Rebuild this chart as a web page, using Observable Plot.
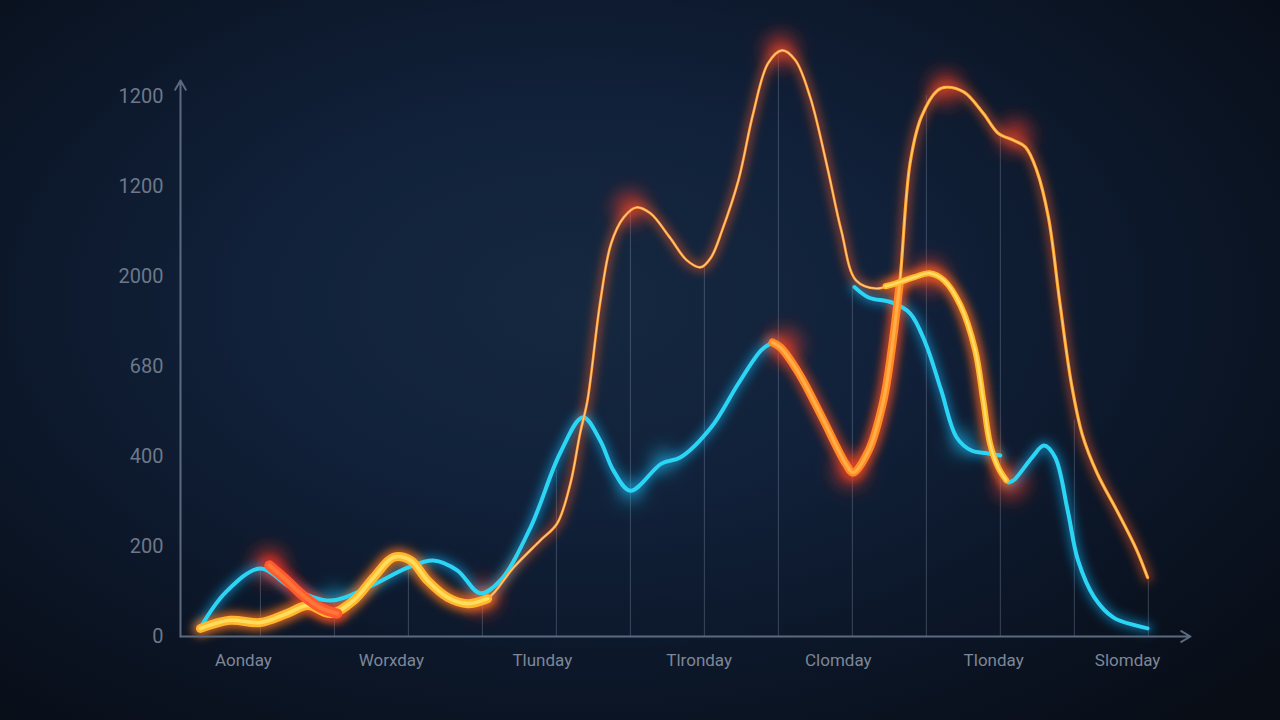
<!DOCTYPE html>
<html><head><meta charset="utf-8">
<script src="https://cdn.jsdelivr.net/npm/d3@7"></script>
<script src="https://cdn.jsdelivr.net/npm/@observablehq/plot@0.6"></script>
<style>
html,body{margin:0;padding:0;width:1280px;height:720px;overflow:hidden;}
body{background: radial-gradient(ellipse 72% 78% at 45% 42%, #15283f 0%, #11213a 35%, #0c1729 65%, #080d16 100%);}
#chart svg{display:block;background:transparent;overflow:visible}
</style></head><body><div id="chart"></div><script>
// ---- tick labels (as printed on the reference) ----
const yTickValues = [0, 200, 400, 600, 800, 1000, 1200];
const yTickLabels = ["0", "200", "400", "680", "2000", "1200", "1200"];
const xTickValues = [0.77, 2.77, 4.81, 6.93, 8.81, 10.91, 12.72];
const xTickLabels = ["Aonday", "Worxday", "Tlunday", "Tlronday", "Clomday", "Tlonday", "Slomday"];

// ---- series values [x, value] ----
const cyanMain = [[0.19,20],[0.53,98],[1.00,151],[1.41,109],[1.95,80],[2.45,109],[2.99,153],[3.34,169],[3.66,147],[3.97,96],[4.24,124],[4.65,242],[5.05,407],[5.36,487],[5.59,436],[5.77,369],[6.00,324],[6.42,384],[6.68,398],[7.09,464],[7.46,562],[7.77,636],[7.92,653]];
const cyanMid = [[9.03,776],[9.22,753],[9.53,742],[9.78,718],[9.99,651],[10.20,547],[10.41,442],[10.61,413],[10.82,407],[11.00,402]];
const cyanEnd = [[11.11,342],[11.18,347],[11.43,398],[11.59,424],[11.74,398],[11.91,280],[12.05,169],[12.27,87],[12.53,42],[12.84,24],[12.99,18]];
const orangeTop = [[0.19,18],[0.59,36],[1.00,31],[1.36,51],[1.64,69],[1.95,51],[2.26,80],[2.53,131],[2.80,176],[3.03,169],[3.26,124],[3.53,87],[3.80,73],[4.07,84],[4.42,153],[4.78,213],[5.01,251],[5.19,340],[5.32,451],[5.42,524],[5.59,740],[5.74,873],[5.91,931],[6.08,953],[6.27,940],[6.53,887],[6.76,836],[6.95,820],[7.09,842],[7.24,902],[7.46,1013],[7.66,1162],[7.86,1273],[8.05,1302],[8.23,1280],[8.43,1198],[8.65,1051],[8.85,902],[9.05,791],[9.32,773],[9.58,784],[9.84,798],[10.04,807],[10.24,791],[10.46,736],[10.66,636],[10.77,524],[10.86,429],[10.97,376],[11.08,347]];
const yellowLow = [[0.19,18],[0.59,36],[1.00,31],[1.36,51],[1.64,69],[1.95,51],[2.26,80],[2.53,131],[2.80,176],[3.03,169],[3.26,124],[3.53,87],[3.80,73],[4.07,84]];
const redBranch = [[1.12,158],[1.36,124],[1.54,96],[1.81,64],[2.04,51]];
const orangeDrop = [[7.92,653],[8.03,642],[8.28,584],[8.59,487],[8.91,384],[9.01,364],[9.22,413],[9.42,524],[9.53,636],[9.64,784]];
const orangeRise = [[9.01,364],[9.22,413],[9.42,524],[9.53,636],[9.64,784],[9.78,1051],[9.93,1153],[10.15,1213],[10.27,1220],[10.51,1209],[10.77,1162],[10.97,1118],[11.18,1102],[11.34,1087],[11.49,1036],[11.65,931],[11.80,747],[11.96,562],[12.11,447],[12.31,362],[12.58,278],[12.84,193],[12.99,131]];
const yellowRight = [[9.45,778],[9.58,784],[9.84,798],[10.04,807],[10.24,791],[10.46,736],[10.66,636],[10.77,524],[10.86,429],[10.97,376],[11.08,347]];

// ---- vertical guide lines ----
const gridX = [1,2,3,4,5,6,7,8,9,10,11,12,13];
const gridTop = [153,80,176,96,369,953,820,1302,780,1202,1113,480,129];

// ---- glow spots ----
const redSpots = [[1.12,160],[6.0,953],[8.03,1302],[10.26,1218],[11.2,1113],[8.09,647],[10.05,802],[8.97,369],[11.14,342],[4.0,88]];
const cyanSpots = [[6.0,324],[2.0,82],[6.45,390],[10.5,430]];

const series = [
  {id:"cyanMain", pts:cyanMain, color:"#2ad6f4", glow:"#12a6e6", w:4, go:0.5},
  {id:"cyanMid", pts:cyanMid, color:"#2ad6f4", glow:"#12a6e6", w:4, go:0.5},
  {id:"cyanEnd", pts:cyanEnd, color:"#2ad6f4", glow:"#12a6e6", w:4, go:0.5},
  {id:"orangeTop", pts:orangeTop, color:"#ff9a35", glow:"#ff5a1e", w:2.6, core:"#ffd08a", go:0.45},
  {id:"orangeRise", pts:orangeRise, color:"#ffa030", glow:"#ff5a1e", w:3.2, core:"#ffd070", go:0.45},
  {id:"orangeDrop", pts:orangeDrop, color:"#ff8a26", glow:"#ff4a1a", w:8, core:"#ffb24a", go:0.6},
  {id:"yellowRight", pts:yellowRight, color:"#ffba2a", glow:"#ff6a1a", w:6, core:"#ffe070", go:0.6},
  {id:"yellowLow", pts:yellowLow, color:"#ffb72e", glow:"#ff7a1a", w:9, core:"#ffe264", go:0.65},
  {id:"redBranch", pts:redBranch, color:"#ff5a2e", glow:"#ff2a1a", w:10, core:"#ff7a3a", go:0.7}
];

const toRows = pts => pts.map(([x, y]) => ({x, y}));
const xDomain = [-0.08, 13.57];
const yDomain = [0, 1235];

const marks = [];
marks.push(Plot.ruleX(gridX.map((x, i) => ({x, top: gridTop[i]})), {x: "x", y1: 0, y2: "top", stroke: "#9aaac4", strokeOpacity: 0.32, strokeWidth: 1}));
marks.push(Plot.dot(redSpots.map(([x, y]) => ({x, y})), {x: "x", y: "y", r: 16, fill: "#ff3a24", fillOpacity: 0.6, ariaDescription: "halo"}));
marks.push(Plot.dot(cyanSpots.map(([x, y]) => ({x, y})), {x: "x", y: "y", r: 13, fill: "#29c6f0", fillOpacity: 0.4, ariaDescription: "halo"}));
for (const s of series) {
  marks.push(Plot.line(toRows(s.pts), {x: "x", y: "y", curve: "catmull-rom", stroke: s.glow, strokeWidth: s.w + 7, strokeOpacity: s.go, ariaDescription: "glow"}));
}
for (const s of series) {
  marks.push(Plot.line(toRows(s.pts), {x: "x", y: "y", curve: "catmull-rom", stroke: s.color, strokeWidth: s.w}));
  if (s.core) marks.push(Plot.line(toRows(s.pts), {x: "x", y: "y", curve: "catmull-rom", stroke: s.core, strokeWidth: Math.max(1.1, s.w * 0.4), strokeOpacity: 0.9}));
}
const axisLines = [
  {x1: xDomain[0], y1: 0, x2: xDomain[1], y2: 0},
  {x1: xDomain[0], y1: 0, x2: xDomain[0], y2: yDomain[1]}
];
marks.push(Plot.arrow(axisLines, {x1: "x1", y1: "y1", x2: "x2", y2: "y2", stroke: "#5c6a80", strokeWidth: 2, headLength: 8, bend: 0}));
marks.push(Plot.axisY({ticks: yTickValues, tickFormat: d => yTickLabels[yTickValues.indexOf(d)], tickSize: 0, tickPadding: 17, fontSize: 20, color: "#6c788a"}));
marks.push(Plot.axisX({ticks: xTickValues, tickFormat: d => xTickLabels[xTickValues.indexOf(d)], tickSize: 0, tickPadding: 17, fontSize: 17, color: "#7d8798"}));

const chart = Plot.plot({
  width: 1280, height: 720,
  marginLeft: 180, marginRight: 90, marginTop: 80, marginBottom: 84,
  x: {domain: xDomain, axis: null},
  y: {domain: yDomain, axis: null},
  style: {background: "transparent", fontFamily: "Roboto, 'DejaVu Sans', sans-serif"},
  marks
});
document.getElementById("chart").appendChild(chart);

// glow filters
const ns = "http://www.w3.org/2000/svg";
const defs = document.createElementNS(ns, "defs");
defs.innerHTML = '<filter id="glowF" filterUnits="userSpaceOnUse" x="0" y="0" width="1280" height="720"><feGaussianBlur stdDeviation="5"/></filter>' +
  '<filter id="haloF" filterUnits="userSpaceOnUse" x="0" y="0" width="1280" height="720"><feGaussianBlur stdDeviation="9"/></filter>';
chart.insertBefore(defs, chart.firstChild);
chart.querySelectorAll('[aria-description="glow"]').forEach(g => g.setAttribute("filter", "url(#glowF)"));
chart.querySelectorAll('[aria-description="halo"]').forEach(g => g.setAttribute("filter", "url(#haloF)"));
</script></body></html>
